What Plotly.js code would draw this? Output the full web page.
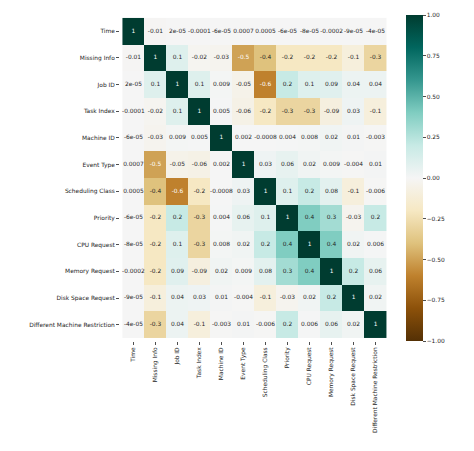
<!DOCTYPE html>
<html>
<head>
<meta charset="utf-8">
<script src="https://cdn.plot.ly/plotly-3.0.1.min.js"></script>
<style>html,body{margin:0;padding:0;background:#fff;}#chart{width:474px;height:451px;}</style>
</head>
<body>
<div id="chart"></div>
<script>
const labels = ["Time","Missing Info","Job ID","Task Index","Machine ID","Event Type","Scheduling Class","Priority","CPU Request","Memory Request","Disk Space Request","Different Machine Restriction"];

const rowTime        = [1, -0.01, 2e-05, -0.0001, -6e-05, 0.0007, 0.0005, -6e-05, -8e-05, -0.0002, -9e-05, -4e-05];
const rowMissingInfo = [-0.01, 1, 0.1, -0.02, -0.03, -0.5, -0.4, -0.2, -0.2, -0.2, -0.1, -0.3];
const rowJobID       = [2e-05, 0.1, 1, 0.1, 0.009, -0.05, -0.6, 0.2, 0.1, 0.09, 0.04, 0.04];
const rowTaskIndex   = [-0.0001, -0.02, 0.1, 1, 0.005, -0.06, -0.2, -0.3, -0.3, -0.09, 0.03, -0.1];
const rowMachineID   = [-6e-05, -0.03, 0.009, 0.005, 1, 0.002, -0.0008, 0.004, 0.008, 0.02, 0.01, -0.003];
const rowEventType   = [0.0007, -0.5, -0.05, -0.06, 0.002, 1, 0.03, 0.06, 0.02, 0.009, -0.004, 0.01];
const rowSchedClass  = [0.0005, -0.4, -0.6, -0.2, -0.0008, 0.03, 1, 0.1, 0.2, 0.08, -0.1, -0.006];
const rowPriority    = [-6e-05, -0.2, 0.2, -0.3, 0.004, 0.06, 0.1, 1, 0.4, 0.3, -0.03, 0.2];
const rowCPU         = [-8e-05, -0.2, 0.1, -0.3, 0.008, 0.02, 0.2, 0.4, 1, 0.4, 0.02, 0.006];
const rowMemory      = [-0.0002, -0.2, 0.09, -0.09, 0.02, 0.009, 0.08, 0.3, 0.4, 1, 0.2, 0.06];
const rowDisk        = [-9e-05, -0.1, 0.04, 0.03, 0.01, -0.004, -0.1, -0.03, 0.02, 0.2, 1, 0.02];
const rowDiffMachine = [-4e-05, -0.3, 0.04, -0.1, -0.003, 0.01, -0.006, 0.2, 0.006, 0.06, 0.02, 1];

const z = [rowTime,rowMissingInfo,rowJobID,rowTaskIndex,rowMachineID,rowEventType,rowSchedClass,rowPriority,rowCPU,rowMemory,rowDisk,rowDiffMachine];

const cbTicks = [-1,-0.75,-0.5,-0.25,0,0.25,0.5,0.75,1];

// matplotlib BrBG
const brbg = ["#543005","#8c510a","#bf812d","#dfc27d","#f6e8c3","#f5f5f5","#c7eae5","#80cdc1","#35978f","#01665e","#003c30"];
const colorscale = brbg.map((c,i)=>[i/(brbg.length-1), c]);

function hex2rgb(h){return [parseInt(h.slice(1,3),16),parseInt(h.slice(3,5),16),parseInt(h.slice(5,7),16)];}
function colorAt(v){
  let f = (v+1)/2; f = Math.max(0,Math.min(1,f));
  const n = brbg.length-1; let i = Math.min(Math.floor(f*n), n-1); const t = f*n - i;
  const a = hex2rgb(brbg[i]), b = hex2rgb(brbg[i+1]);
  return a.map((x,k)=>x+(b[k]-x)*t);
}
function lum(rgb){
  const c = rgb.map(x=>{x/=255; return x<=0.03928 ? x/12.92 : Math.pow((x+0.055)/1.055,2.4);});
  return 0.2126*c[0]+0.7152*c[1]+0.0722*c[2];
}
// emulate Python '%.1g'
function fmt(v){
  if(v===0) return "0";
  const e = Math.floor(Math.log10(Math.abs(v)));
  if(e < -4){
    const m = Math.round(v/Math.pow(10,e));
    const ee = -e;
    return m + "e-" + (ee<10?"0"+ee:ee);
  }
  return String(Number(v.toPrecision(1)));
}

const tx=[],ty=[],tt=[],tc=[];
for(let r=0;r<labels.length;r++){
  for(let c=0;c<labels.length;c++){
    tx.push(labels[c]); ty.push(labels[r]); tt.push(fmt(z[r][c]));
    tc.push(lum(colorAt(z[r][c]))>0.408 ? "#262626" : "#ffffff");
  }
}

const font = "DejaVu Sans, sans-serif";
const fs = 5.9;
const data = [
  {
    type:"heatmap", x:labels, y:labels, z:z, zmin:-1, zmax:1,
    colorscale:colorscale, hoverinfo:"skip", xgap:0, ygap:0,
    colorbar:{
      x:1.063, xanchor:"left", xref:"paper", xpad:0, ypad:0, y:0.5, yanchor:"middle", len:1, lenmode:"fraction",
      thickness:17, thicknessmode:"pixels", outlinewidth:0,
      tickvals:cbTicks, tickformat:".2f", ticks:"outside", ticklen:3, tickwidth:0.8, tickcolor:"#222",
      tickfont:{family:font,size:fs,color:"#222"}
    }
  },
  {
    type:"scatter", mode:"text", x:tx, y:ty, text:tt, hoverinfo:"skip", showlegend:false,
    textfont:{family:font,size:fs,color:tc}
  }
];

const layout = {
  width:474, height:451,
  margin:{l:120,r:85,t:15,b:110},
  paper_bgcolor:"#fff", plot_bgcolor:"#fff",
  showlegend:false,
  xaxis:{type:"category", tickangle:-90, ticks:"outside", ticklen:3, tickwidth:0.8, tickcolor:"#222",
    tickfont:{family:font,size:fs,color:"#222"}, showgrid:false, zeroline:false, showline:false},
  yaxis:{type:"category", autorange:"reversed", ticks:"outside", ticklen:3, tickwidth:0.8, tickcolor:"#222",
    tickfont:{family:font,size:fs,color:"#222"}, showgrid:false, zeroline:false, showline:false}
};

Plotly.newPlot("chart", data, layout, {displayModeBar:false, staticPlot:true});
</script>
</body>
</html>
